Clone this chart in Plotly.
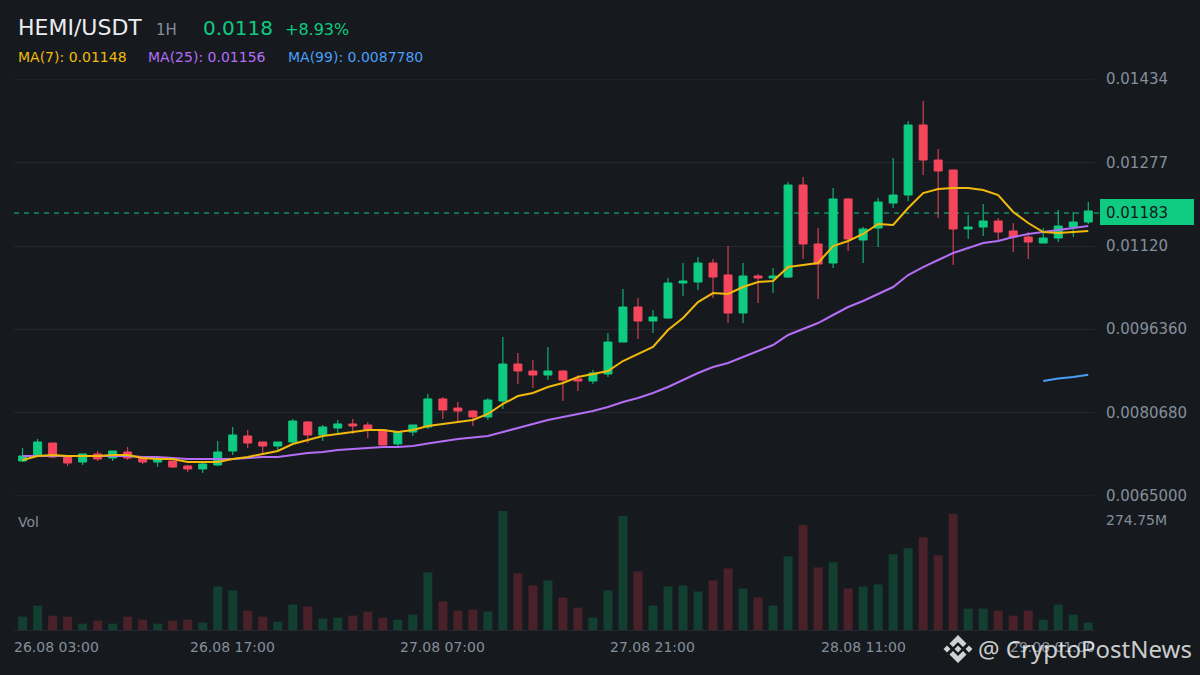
import plotly.graph_objects as go

# HEMI/USDT 1H candles
times = list(range(72))

opens = [0.007158, 0.007252, 0.007496, 0.007252, 0.007139, 0.007290, 0.007214, 0.007327, 0.007233, 0.007139,
         0.007158, 0.007064, 0.007008, 0.007083, 0.007346, 0.007628, 0.007515, 0.007440, 0.007515, 0.007891,
         0.007647, 0.007778, 0.007854, 0.007835, 0.007741, 0.007478, 0.007703, 0.007797, 0.008324, 0.008154,
         0.008098, 0.007985, 0.008286, 0.008982, 0.008850, 0.008775, 0.008850, 0.008700, 0.008662, 0.008794,
         0.009395, 0.010053, 0.009790, 0.009846, 0.010504, 0.010523, 0.010880, 0.010655, 0.009940, 0.010636,
         0.010598, 0.010617, 0.012347, 0.011238, 0.010880, 0.012084, 0.011313, 0.011538, 0.012008, 0.012159,
         0.013475, 0.012817, 0.012629, 0.011520, 0.011557, 0.011670, 0.011482, 0.011369, 0.011256, 0.011350,
         0.011557, 0.011651]
highs = [0.007402, 0.007572, 0.007496, 0.007252, 0.007290, 0.007346, 0.007346, 0.007421, 0.007233, 0.007214,
         0.007158, 0.007083, 0.007120, 0.007534, 0.007797, 0.007741, 0.007515, 0.007515, 0.007948, 0.007910,
         0.007835, 0.007929, 0.007948, 0.007891, 0.007741, 0.007703, 0.007835, 0.008418, 0.008361, 0.008267,
         0.008117, 0.008342, 0.009489, 0.009188, 0.009057, 0.009301, 0.008869, 0.008775, 0.008869, 0.009564,
         0.010392, 0.010222, 0.009997, 0.010598, 0.010880, 0.010993, 0.010956, 0.011200, 0.010880, 0.010674,
         0.010786, 0.012403, 0.012497, 0.011538, 0.012290, 0.012102, 0.011557, 0.012102, 0.012854, 0.013550,
         0.013926, 0.013024, 0.012629, 0.011783, 0.011990, 0.011726, 0.011632, 0.011463, 0.011538, 0.011877,
         0.011839, 0.012027]
lows = [0.007139, 0.007252, 0.007214, 0.007064, 0.007083, 0.007158, 0.007158, 0.007177, 0.007102, 0.007045,
        0.007026, 0.006951, 0.006932, 0.007064, 0.007271, 0.007402, 0.007290, 0.007346, 0.007478, 0.007496,
        0.007534, 0.007684, 0.007666, 0.007590, 0.007459, 0.007421, 0.007628, 0.007760, 0.007948, 0.007891,
        0.007816, 0.007929, 0.008136, 0.008606, 0.008530, 0.008681, 0.008286, 0.008474, 0.008606, 0.008737,
        0.009395, 0.009452, 0.009564, 0.009828, 0.010260, 0.010373, 0.010222, 0.009752, 0.009752, 0.010128,
        0.010316, 0.010598, 0.010956, 0.010204, 0.010786, 0.011106, 0.010880, 0.011181, 0.011914, 0.012046,
        0.012535, 0.011726, 0.010843, 0.011332, 0.011388, 0.011313, 0.011087, 0.010956, 0.011256, 0.011275,
        0.011369, 0.011614]
closes = [0.007252, 0.007515, 0.007233, 0.007120, 0.007290, 0.007196, 0.007346, 0.007214, 0.007139, 0.007214,
          0.007045, 0.007008, 0.007102, 0.007327, 0.007647, 0.007496, 0.007440, 0.007515, 0.007910, 0.007647,
          0.007797, 0.007854, 0.007816, 0.007741, 0.007459, 0.007703, 0.007835, 0.008324, 0.008117, 0.008098,
          0.007985, 0.008305, 0.008982, 0.008850, 0.008775, 0.008850, 0.008681, 0.008662, 0.008812, 0.009395,
          0.010053, 0.009790, 0.009865, 0.010504, 0.010542, 0.010880, 0.010617, 0.009940, 0.010636, 0.010598,
          0.010636, 0.012347, 0.011238, 0.010862, 0.012084, 0.011332, 0.011520, 0.012027, 0.012159, 0.013475,
          0.012817, 0.012610, 0.011520, 0.011557, 0.011670, 0.011463, 0.011369, 0.011275, 0.011350, 0.011576,
          0.011651, 0.011858]

ma7 = [0.007177, 0.007252, 0.007271, 0.007252, 0.007252, 0.007252, 0.007271, 0.007271, 0.007214, 0.007196,
       0.007196, 0.007139, 0.007139, 0.007139, 0.007196, 0.007233, 0.007290, 0.007346, 0.007478, 0.007553,
       0.007628, 0.007666, 0.007703, 0.007741, 0.007741, 0.007703, 0.007741, 0.007816, 0.007854, 0.007891,
       0.007929, 0.008042, 0.008230, 0.008380, 0.008436, 0.008549, 0.008624, 0.008737, 0.008794, 0.008850,
       0.009038, 0.009170, 0.009301, 0.009621, 0.009846, 0.010147, 0.010316, 0.010298, 0.010429, 0.010523,
       0.010542, 0.010805, 0.010843, 0.010880, 0.011200, 0.011294, 0.011426, 0.011614, 0.011595, 0.011914,
       0.012196, 0.012272, 0.012290, 0.012290, 0.012253, 0.012159, 0.011839, 0.011632, 0.011463, 0.011444,
       0.011463, 0.011482]
ma25 = [0.007252, 0.007252, 0.007252, 0.007252, 0.007252, 0.007252, 0.007252, 0.007252, 0.007233, 0.007233,
        0.007214, 0.007196, 0.007196, 0.007196, 0.007196, 0.007214, 0.007233, 0.007233, 0.007271, 0.007308,
        0.007327, 0.007365, 0.007384, 0.007402, 0.007421, 0.007421, 0.007440, 0.007487, 0.007534, 0.007572,
        0.007600, 0.007628, 0.007703, 0.007778, 0.007854, 0.007929, 0.007985, 0.008042, 0.008098, 0.008173,
        0.008267, 0.008342, 0.008436, 0.008549, 0.008681, 0.008812, 0.008925, 0.009000, 0.009113, 0.009226,
        0.009339, 0.009527, 0.009640, 0.009752, 0.009903, 0.010053, 0.010166, 0.010298, 0.010429, 0.010655,
        0.010805, 0.010937, 0.011068, 0.011162, 0.011256, 0.011294, 0.011369, 0.011426, 0.011463, 0.011501,
        0.011538, 0.011576]
ma99 = [None] * 68 + [0.008662, 0.008709, 0.008737, 0.008778]

# volume in millions
volumes = [30.9, 56.4, 33.2, 30.9, 14.6, 21.6, 14.6, 30.9, 23.9, 14.6,
           21.6, 23.9, 17.0, 100.5, 91.3, 44.8, 30.9, 19.3, 58.7, 54.1,
           26.2, 28.6, 33.2, 42.5, 28.6, 23.9, 35.5, 133.1, 65.7, 44.8,
           47.1, 42.5, 274.75, 130.7, 102.9, 114.5, 75.0, 51.8, 28.6, 91.3,
           263.1, 135.4, 56.4, 100.5, 102.9, 88.9, 114.5, 142.3, 95.9, 75.0,
           56.4, 170.2, 242.2, 144.7, 156.3, 95.9, 100.5, 105.2, 174.9, 188.8,
           214.3, 172.5, 267.8, 49.5, 49.5, 44.8, 33.2, 44.8, 23.9, 58.7,
           35.5, 17.0]

price_ticks = [0.01434, 0.01277, 0.01120, 0.009636, 0.008068, 0.0065]
price_tick_labels = ["0.01434", "0.01277", "0.01120", "0.0096360", "0.0080680", "0.0065000"]
time_labels = ["26.08 03:00", "26.08 17:00", "27.08 07:00", "27.08 21:00", "28.08 11:00", "29.08 01:00"]
time_label_idx = [0, 14, 28, 42, 56, 70]
last_price = 0.01182

BG = "#161a1e"
GRID = "#24282e"
GREEN = "#0ecb81"
RED = "#f6465d"
GREY = "#848e9c"
FONT = "DejaVu Sans"


def px(x):
    return (x - 14) / 1081


def py(y):
    return 1 - y / 675


fig = go.Figure()

fig.add_trace(go.Candlestick(
    x=times, open=opens, high=highs, low=lows, close=closes,
    increasing=dict(line=dict(color=GREEN, width=1), fillcolor=GREEN),
    decreasing=dict(line=dict(color=RED, width=1), fillcolor=RED),
    whiskerwidth=0, xaxis="x", yaxis="y", showlegend=False,
))
fig.add_trace(go.Scatter(x=times, y=ma25, mode="lines", line=dict(color="#b36ef5", width=2), showlegend=False))
fig.add_trace(go.Scatter(x=times, y=ma7, mode="lines", line=dict(color="#f0b90b", width=2), showlegend=False))
fig.add_trace(go.Scatter(x=times, y=ma99, mode="lines", line=dict(color="#4a9ef8", width=2), showlegend=False))

vol_colors = ["#123f30" if c >= o else "#4a2029" for o, c in zip(opens, closes)]
fig.add_trace(go.Bar(x=times, y=volumes, marker=dict(color=vol_colors, line_width=0), width=0.6,
                     xaxis="x2", yaxis="y2", showlegend=False))

shapes = [
    dict(type="line", xref="paper", yref="y", x0=0, x1=px(1100), y0=last_price, y1=last_price,
         line=dict(color=GREEN, width=1, dash="5px,5px"), layer="below"),
    dict(type="rect", xref="paper", yref="paper", x0=px(1100), x1=px(1194), y0=py(225), y1=py(199),
         fillcolor=GREEN, line_width=0),
]
# plotly drops the gridlines that sit on the axis ends
for edge in [price_ticks[0], price_ticks[-1]]:
    shapes.append(dict(type="line", xref="paper", yref="y", x0=0, x1=1, y0=edge, y1=edge,
                       line=dict(color=GRID, width=1), layer="below"))

# watermark logo
LOGO = "rgba(255,255,255,0.8)"


def logo_path(points):
    parts = [f"{px(x)},{py(y)}" for x, y in points]
    return "M" + " L".join(parts) + " Z"


logo_parts = [
    [(943.5, 649), (947, 645.5), (950.5, 649), (947, 652.5)],
    [(965.5, 649), (969, 645.5), (972.5, 649), (969, 652.5)],
    [(954.5, 649), (958, 645.5), (961.5, 649), (958, 652.5)],
    [(958, 635), (966.5, 643.5), (963, 647), (958, 642), (953, 647), (949.5, 643.5)],
    [(958, 663), (966.5, 654.5), (963, 651), (958, 656), (953, 651), (949.5, 654.5)],
]
for part in logo_parts:
    shapes.append(dict(type="path", xref="paper", yref="paper", path=logo_path(part), fillcolor=LOGO, line_width=0))


def text(x, y, s, size, color, anchor="left", family=FONT):
    # annotations carry 2px of padding on the left
    return dict(xref="paper", yref="paper", x=px(x - 2 if anchor == "left" else x + 2), y=py(y), text=s, showarrow=False,
                xanchor=anchor, yanchor="middle", font=dict(family=family, size=size, color=color))


annotations = [
    text(18, 27, "HEMI/USDT", 22, "#eaecef"),
    text(156, 30, "1H", 15, GREY),
    text(203, 28, "0.0118", 20, GREEN),
    text(285, 29, "+8.93%", 16, GREEN),
    text(18, 57, "MA(7): 0.01148", 14, "#f0b90b"),
    text(148, 57, "MA(25): 0.01156", 14, "#b36ef5"),
    text(288, 57, "MA(99): 0.0087780", 14, "#4a9ef8"),
    text(18, 522, "Vol", 14, GREY),
    text(1106, 520, "274.75M", 14, GREY),
    text(1106, 213, "0.01183", 15, "#14181c"),
    text(14, 647, time_labels[0], 14, GREY),
    text(1095, 647, time_labels[5], 14, GREY, anchor="right"),
    text(978, 648, "@ CryptoPostNews", 24, "rgba(255,255,255,0.78)", family="Noto Sans"),
]
for idx, lab in zip(time_label_idx[1:5], time_labels[1:5]):
    annotations.append(dict(xref="x2", yref="paper", x=idx, y=py(647), text=lab, showarrow=False,
                            xanchor="center", yanchor="middle", font=dict(family=FONT, size=14, color=GREY)))

x_range = [-0.573, 71.45]
fig.update_layout(
    width=1200, height=675,
    autosize=False,
    margin=dict(l=14, r=105, t=0, b=0, autoexpand=False),
    paper_bgcolor=BG, plot_bgcolor=BG,
    font=dict(family=FONT, color=GREY, size=15),
    boxgap=0.24,
    showlegend=False,
    hovermode=False,
    shapes=shapes,
    annotations=annotations,
    xaxis=dict(domain=[0, 1], range=x_range, rangeslider=dict(visible=False), showgrid=False, showticklabels=False,
               zeroline=False, anchor="y", ticks=""),
    xaxis2=dict(domain=[0, 1], range=x_range, showgrid=False, showticklabels=False, zeroline=False, anchor="y2",
                ticks="", showline=True, linecolor=GRID, linewidth=1),
    yaxis=dict(domain=[py(496), py(79)], range=[0.0065, 0.01434], side="right", anchor="x", tickmode="array",
               tickvals=price_ticks, ticktext=price_tick_labels, gridcolor=GRID, gridwidth=1, zeroline=False,
               ticks="outside", ticklen=7, tickcolor="rgba(0,0,0,0)", tickfont=dict(size=15, color=GREY)),
    yaxis2=dict(domain=[py(630), py(511)], range=[0, 274.75], side="right", anchor="x2", showgrid=False,
                showticklabels=False, zeroline=False, ticks=""),
)

# the page must start at 0,0 with no body margin
fig.write_html("out.html", config={"displayModeBar": False},
               post_script=f"document.body.style.margin='0';document.body.style.background='{BG}';"
                           "document.body.style.overflow='hidden';")
